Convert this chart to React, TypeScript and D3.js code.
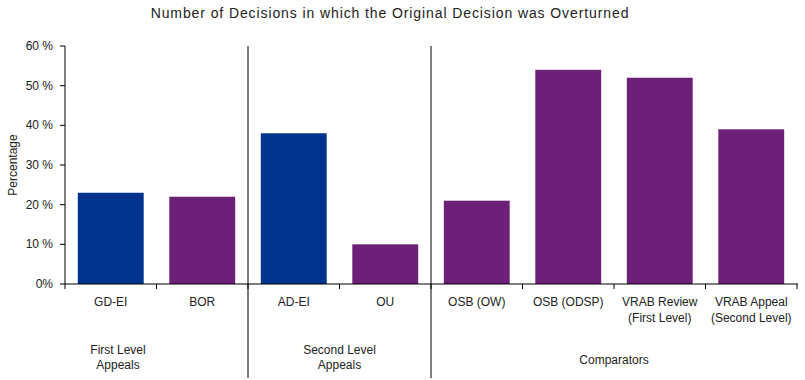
import React from "react";
import * as d3 from "d3";

const categories = ["GD-EI", "BOR", "AD-EI", "OU", "OSB (OW)", "OSB (ODSP)", "VRAB Review\n(First Level)", "VRAB Appeal\n(Second Level)"];
const values = [23, 22, 38, 10, 21, 54, 52, 39];
const seriesType = ["blue", "purple", "blue", "purple", "purple", "purple", "purple", "purple"];
const groups = [
  { label: ["First Level", "Appeals"], start: 0, end: 2 },
  { label: ["Second Level", "Appeals"], start: 2, end: 4 },
  { label: ["Comparators"], start: 4, end: 8 },
];
const yTicks = [0, 10, 20, 30, 40, 50, 60];
const title = "Number of Decisions in which the Original Decision was Overturned";

const colors: Record<string, string> = { blue: "#00338D", purple: "#6D2077" };

export default function App() {
  const W = 805, H = 380;
  const left = 65, right = 797, top = 46, bottom = 284;
  const x = d3.scaleBand<number>().domain(d3.range(categories.length)).range([left, right]).paddingInner(0.28).paddingOuter(0.14);
  const step = (right - left) / categories.length;
  const y = d3.scaleLinear().domain([0, 60]).range([bottom, top]);
  const font = "'Liberation Sans', Arial, sans-serif";
  const txt = "#222";
  return (
    <svg width={W} height={H} style={{ position: "absolute", left: 0, top: 0 }} fontFamily={font}>
      <rect width={W} height={H} fill="#fff" />
      <text x={390} y={18} textAnchor="middle" fontSize={14} letterSpacing={0.9} fill={txt}>{title}</text>
      {/* y axis */}
      <line x1={left} x2={left} y1={top} y2={bottom} stroke="#000" />
      {yTicks.map((t) => (
        <g key={t}>
          <line x1={left - 5} x2={left} y1={y(t)} y2={y(t)} stroke="#000" />
          <text x={left - 12} y={y(t) + 4} textAnchor="end" fontSize={12} fill={txt}>{t === 0 ? "0%" : `${t} %`}</text>
        </g>
      ))}
      <text transform={`translate(17,${(top + bottom) / 2}) rotate(-90)`} textAnchor="middle" fontSize={12} fill={txt}>Percentage</text>
      {/* bars */}
      {values.map((v, i) => (
        <rect key={i} x={x(i)} width={x.bandwidth()} y={y(v)} height={bottom - y(v)} fill={colors[seriesType[i]]} />
      ))}
      {/* x axis */}
      <line x1={left} x2={right + 1} y1={bottom} y2={bottom} stroke="#000" />
      {d3.range(categories.length + 1).map((i) => (
        <line key={i} x1={left + i * step} x2={left + i * step} y1={bottom} y2={bottom + 5} stroke="#000" />
      ))}
      {/* group separators */}
      {groups.slice(1).map((g, i) => (
        <line key={i} x1={left + g.start * step} x2={left + g.start * step} y1={top} y2={378} stroke="#000" />
      ))}
      {categories.map((c, i) => (
        <text key={i} x={left + (i + 0.5) * step} y={306} textAnchor="middle" fontSize={12} fill={txt}>
          {c.split("\n").map((l, j) => (
            <tspan key={j} x={left + (i + 0.5) * step} dy={j === 0 ? 0 : 16}>{l}</tspan>
          ))}
        </text>
      ))}
      {groups.map((g, i) => {
        const cx = i === 0 ? 118 : left + ((g.start + g.end) / 2) * step;
        const y0 = g.label.length === 1 ? 364 : 354;
        return (
          <text key={i} x={cx} y={y0} textAnchor="middle" fontSize={12} fill={txt}>
            {g.label.map((l, j) => (
              <tspan key={j} x={cx} dy={j === 0 ? 0 : 15}>{l}</tspan>
            ))}
          </text>
        );
      })}
    </svg>
  );
}
